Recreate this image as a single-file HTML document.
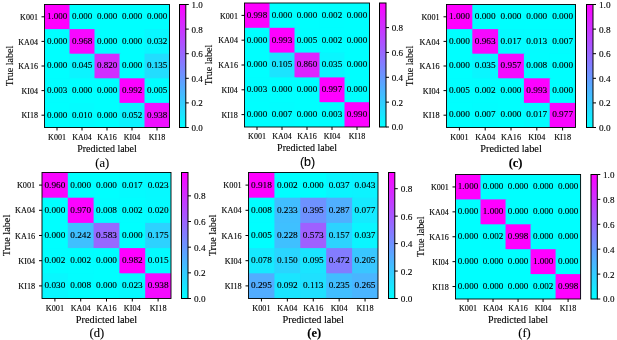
<!DOCTYPE html>
<html><head><meta charset="utf-8"><title>Confusion matrices</title>
<style>html,body{margin:0;padding:0;background:#fff;overflow:hidden}svg{display:block}text{stroke:#000;stroke-width:.12px}</style></head>
<body>
<svg width="617" height="340" viewBox="0 0 617 340" font-family="'Liberation Serif', serif" fill="#000">
<defs><linearGradient id="cg" x1="0" y1="1" x2="0" y2="0"><stop offset="0" stop-color="rgb(0,255,255)"/><stop offset="1" stop-color="rgb(255,0,255)"/></linearGradient></defs>
<rect width="617" height="340" fill="#fff"/>
<g id="pa">
<g>
<rect x="44.5" y="4.5" width="125" height="123" fill="rgb(0,255,255)"/>
<rect x="44.5" y="4.5" width="26" height="25.6" fill="rgb(255,0,255)"/>
<rect x="69.5" y="4.5" width="26" height="25.6" fill="rgb(0,255,255)"/>
<rect x="94.5" y="4.5" width="26" height="25.6" fill="rgb(0,255,255)"/>
<rect x="119.5" y="4.5" width="26" height="25.6" fill="rgb(0,255,255)"/>
<rect x="144.5" y="4.5" width="25" height="25.6" fill="rgb(0,255,255)"/>
<rect x="44.5" y="29.1" width="26" height="25.6" fill="rgb(0,255,255)"/>
<rect x="69.5" y="29.1" width="26" height="25.6" fill="rgb(247,8,255)"/>
<rect x="94.5" y="29.1" width="26" height="25.6" fill="rgb(0,255,255)"/>
<rect x="119.5" y="29.1" width="26" height="25.6" fill="rgb(0,255,255)"/>
<rect x="144.5" y="29.1" width="25" height="25.6" fill="rgb(8,247,255)"/>
<rect x="44.5" y="53.7" width="26" height="25.6" fill="rgb(0,255,255)"/>
<rect x="69.5" y="53.7" width="26" height="25.6" fill="rgb(11,244,255)"/>
<rect x="94.5" y="53.7" width="26" height="25.6" fill="rgb(209,46,255)"/>
<rect x="119.5" y="53.7" width="26" height="25.6" fill="rgb(0,255,255)"/>
<rect x="144.5" y="53.7" width="25" height="25.6" fill="rgb(34,221,255)"/>
<rect x="44.5" y="78.3" width="26" height="25.6" fill="rgb(1,254,255)"/>
<rect x="69.5" y="78.3" width="26" height="25.6" fill="rgb(0,255,255)"/>
<rect x="94.5" y="78.3" width="26" height="25.6" fill="rgb(0,255,255)"/>
<rect x="119.5" y="78.3" width="26" height="25.6" fill="rgb(253,2,255)"/>
<rect x="144.5" y="78.3" width="25" height="25.6" fill="rgb(1,254,255)"/>
<rect x="44.5" y="102.9" width="26" height="24.6" fill="rgb(0,255,255)"/>
<rect x="69.5" y="102.9" width="26" height="24.6" fill="rgb(3,252,255)"/>
<rect x="94.5" y="102.9" width="26" height="24.6" fill="rgb(0,255,255)"/>
<rect x="119.5" y="102.9" width="26" height="24.6" fill="rgb(13,242,255)"/>
<rect x="144.5" y="102.9" width="25" height="24.6" fill="rgb(239,16,255)"/>
</g>
<rect x="44.5" y="4.5" width="125" height="123" fill="none" stroke="#000" stroke-width="0.9"/>
<g font-size="9" text-anchor="middle">
<text x="57" y="19.2">1.000</text>
<text x="82" y="19.2">0.000</text>
<text x="107" y="19.2">0.000</text>
<text x="132" y="19.2">0.000</text>
<text x="157" y="19.2">0.000</text>
<text x="57" y="43.8">0.000</text>
<text x="82" y="43.8">0.968</text>
<text x="107" y="43.8">0.000</text>
<text x="132" y="43.8">0.000</text>
<text x="157" y="43.8">0.032</text>
<text x="57" y="68.4">0.000</text>
<text x="82" y="68.4">0.045</text>
<text x="107" y="68.4">0.820</text>
<text x="132" y="68.4">0.000</text>
<text x="157" y="68.4">0.135</text>
<text x="57" y="93">0.003</text>
<text x="82" y="93">0.000</text>
<text x="107" y="93">0.000</text>
<text x="132" y="93">0.992</text>
<text x="157" y="93">0.005</text>
<text x="57" y="117.6">0.000</text>
<text x="82" y="117.6">0.010</text>
<text x="107" y="117.6">0.000</text>
<text x="132" y="117.6">0.052</text>
<text x="157" y="117.6">0.938</text>
</g>
<g font-size="8" text-anchor="end">
<text x="37.9" y="19.9">K001</text>
<text x="37.9" y="44.5">KA04</text>
<text x="37.9" y="69.1">KA16</text>
<text x="37.9" y="93.7">KI04</text>
<text x="37.9" y="118.3">KI18</text>
</g>
<g font-size="8" text-anchor="middle">
<text x="57" y="139.85">K001</text>
<text x="82" y="139.85">KA04</text>
<text x="107" y="139.85">KA16</text>
<text x="132" y="139.85">KI04</text>
<text x="157" y="139.85">KI18</text>
</g>
<text x="107" y="152" font-size="10" text-anchor="middle">Predicted label</text>
<text transform="translate(12.7,66) rotate(-90)" font-size="10" text-anchor="middle">True label</text>
<text x="102.3" y="167.2" font-size="12.5" text-anchor="middle">(a)</text>
<rect x="179.5" y="4.5" width="6.3" height="123" fill="url(#cg)" stroke="#000" stroke-width="1"/>
<g font-size="9">
<text x="191.6" y="130.9">0.0</text>
<text x="191.6" y="106.3">0.2</text>
<text x="191.6" y="81.7">0.4</text>
<text x="191.6" y="57.1">0.6</text>
<text x="191.6" y="32.5">0.8</text>
<text x="191.6" y="7.9">1.0</text>
</g>
<path d="M44.5 16.8h-3M57 127.5v3M44.5 41.4h-3M82 127.5v3M44.5 66h-3M107 127.5v3M44.5 90.6h-3M132 127.5v3M44.5 115.2h-3M157 127.5v3M185.8 127.5h3M185.8 102.9h3M185.8 78.3h3M185.8 53.7h3M185.8 29.1h3M185.8 4.5h3" stroke="#000" stroke-width="1" fill="none"/>
</g>
<g id="pb">
<g>
<rect x="244.5" y="3" width="125" height="124" fill="rgb(0,255,255)"/>
<rect x="244.5" y="3" width="26" height="25.8" fill="rgb(255,0,255)"/>
<rect x="269.5" y="3" width="26" height="25.8" fill="rgb(0,255,255)"/>
<rect x="294.5" y="3" width="26" height="25.8" fill="rgb(0,255,255)"/>
<rect x="319.5" y="3" width="26" height="25.8" fill="rgb(1,254,255)"/>
<rect x="344.5" y="3" width="25" height="25.8" fill="rgb(0,255,255)"/>
<rect x="244.5" y="27.8" width="26" height="25.8" fill="rgb(0,255,255)"/>
<rect x="269.5" y="27.8" width="26" height="25.8" fill="rgb(254,1,255)"/>
<rect x="294.5" y="27.8" width="26" height="25.8" fill="rgb(1,254,255)"/>
<rect x="319.5" y="27.8" width="26" height="25.8" fill="rgb(1,254,255)"/>
<rect x="344.5" y="27.8" width="25" height="25.8" fill="rgb(0,255,255)"/>
<rect x="244.5" y="52.6" width="26" height="25.8" fill="rgb(0,255,255)"/>
<rect x="269.5" y="52.6" width="26" height="25.8" fill="rgb(27,228,255)"/>
<rect x="294.5" y="52.6" width="26" height="25.8" fill="rgb(220,35,255)"/>
<rect x="319.5" y="52.6" width="26" height="25.8" fill="rgb(9,246,255)"/>
<rect x="344.5" y="52.6" width="25" height="25.8" fill="rgb(0,255,255)"/>
<rect x="244.5" y="77.4" width="26" height="25.8" fill="rgb(1,254,255)"/>
<rect x="269.5" y="77.4" width="26" height="25.8" fill="rgb(0,255,255)"/>
<rect x="294.5" y="77.4" width="26" height="25.8" fill="rgb(0,255,255)"/>
<rect x="319.5" y="77.4" width="26" height="25.8" fill="rgb(255,0,255)"/>
<rect x="344.5" y="77.4" width="25" height="25.8" fill="rgb(0,255,255)"/>
<rect x="244.5" y="102.2" width="26" height="24.8" fill="rgb(0,255,255)"/>
<rect x="269.5" y="102.2" width="26" height="24.8" fill="rgb(2,253,255)"/>
<rect x="294.5" y="102.2" width="26" height="24.8" fill="rgb(0,255,255)"/>
<rect x="319.5" y="102.2" width="26" height="24.8" fill="rgb(1,254,255)"/>
<rect x="344.5" y="102.2" width="25" height="24.8" fill="rgb(253,2,255)"/>
</g>
<rect x="244.5" y="3" width="125" height="124" fill="none" stroke="#000" stroke-width="0.9"/>
<g font-size="9.04" text-anchor="middle">
<text x="257" y="17.81">0.998</text>
<text x="282" y="17.81">0.000</text>
<text x="307" y="17.81">0.000</text>
<text x="332" y="17.81">0.002</text>
<text x="357" y="17.81">0.000</text>
<text x="257" y="42.61">0.000</text>
<text x="282" y="42.61">0.993</text>
<text x="307" y="42.61">0.005</text>
<text x="332" y="42.61">0.002</text>
<text x="357" y="42.61">0.000</text>
<text x="257" y="67.41">0.000</text>
<text x="282" y="67.41">0.105</text>
<text x="307" y="67.41">0.860</text>
<text x="332" y="67.41">0.035</text>
<text x="357" y="67.41">0.000</text>
<text x="257" y="92.21">0.003</text>
<text x="282" y="92.21">0.000</text>
<text x="307" y="92.21">0.000</text>
<text x="332" y="92.21">0.997</text>
<text x="357" y="92.21">0.000</text>
<text x="257" y="117.01">0.000</text>
<text x="282" y="117.01">0.007</text>
<text x="307" y="117.01">0.000</text>
<text x="332" y="117.01">0.003</text>
<text x="357" y="117.01">0.990</text>
</g>
<g font-size="8.03" text-anchor="end">
<text x="237.9" y="18.51">K001</text>
<text x="237.9" y="43.31">KA04</text>
<text x="237.9" y="68.11">KA16</text>
<text x="237.9" y="92.91">KI04</text>
<text x="237.9" y="117.71">KI18</text>
</g>
<g font-size="8.03" text-anchor="middle">
<text x="257" y="138.85">K001</text>
<text x="282" y="138.85">KA04</text>
<text x="307" y="138.85">KA16</text>
<text x="332" y="138.85">KI04</text>
<text x="357" y="138.85">KI18</text>
</g>
<text x="307" y="151.1" font-size="10.04" text-anchor="middle">Predicted label</text>
<text transform="translate(212.11,65) rotate(-90)" font-size="10.04" text-anchor="middle">True label</text>
<text x="307.6" y="166.2" font-size="12.5" text-anchor="middle" font-family="'Liberation Sans', sans-serif">(b)</text>
<rect x="379.5" y="3" width="6.5" height="124" fill="url(#cg)" stroke="#000" stroke-width="1"/>
<g font-size="9.04">
<text x="391.8" y="130.41">0.0</text>
<text x="391.8" y="105.56">0.2</text>
<text x="391.8" y="80.71">0.4</text>
<text x="391.8" y="55.86">0.6</text>
<text x="391.8" y="31.01">0.8</text>
</g>
<path d="M244.5 15.4h-3M257 127v3M244.5 40.2h-3M282 127v3M244.5 65h-3M307 127v3M244.5 89.8h-3M332 127v3M244.5 114.6h-3M357 127v3M386 127h3M386 102.15h3M386 77.3h3M386 52.45h3M386 27.6h3" stroke="#000" stroke-width="1" fill="none"/>
</g>
<g id="pc">
<g>
<rect x="446.5" y="4.5" width="129" height="123" fill="rgb(0,255,255)"/>
<rect x="446.5" y="4.5" width="26.8" height="25.6" fill="rgb(255,0,255)"/>
<rect x="472.3" y="4.5" width="26.8" height="25.6" fill="rgb(0,255,255)"/>
<rect x="498.1" y="4.5" width="26.8" height="25.6" fill="rgb(0,255,255)"/>
<rect x="523.9" y="4.5" width="26.8" height="25.6" fill="rgb(0,255,255)"/>
<rect x="549.7" y="4.5" width="25.8" height="25.6" fill="rgb(0,255,255)"/>
<rect x="446.5" y="29.1" width="26.8" height="25.6" fill="rgb(0,255,255)"/>
<rect x="472.3" y="29.1" width="26.8" height="25.6" fill="rgb(246,9,255)"/>
<rect x="498.1" y="29.1" width="26.8" height="25.6" fill="rgb(4,251,255)"/>
<rect x="523.9" y="29.1" width="26.8" height="25.6" fill="rgb(3,252,255)"/>
<rect x="549.7" y="29.1" width="25.8" height="25.6" fill="rgb(2,253,255)"/>
<rect x="446.5" y="53.7" width="26.8" height="25.6" fill="rgb(0,255,255)"/>
<rect x="472.3" y="53.7" width="26.8" height="25.6" fill="rgb(9,246,255)"/>
<rect x="498.1" y="53.7" width="26.8" height="25.6" fill="rgb(244,11,255)"/>
<rect x="523.9" y="53.7" width="26.8" height="25.6" fill="rgb(2,253,255)"/>
<rect x="549.7" y="53.7" width="25.8" height="25.6" fill="rgb(0,255,255)"/>
<rect x="446.5" y="78.3" width="26.8" height="25.6" fill="rgb(1,254,255)"/>
<rect x="472.3" y="78.3" width="26.8" height="25.6" fill="rgb(1,254,255)"/>
<rect x="498.1" y="78.3" width="26.8" height="25.6" fill="rgb(0,255,255)"/>
<rect x="523.9" y="78.3" width="26.8" height="25.6" fill="rgb(253,2,255)"/>
<rect x="549.7" y="78.3" width="25.8" height="25.6" fill="rgb(0,255,255)"/>
<rect x="446.5" y="102.9" width="26.8" height="24.6" fill="rgb(0,255,255)"/>
<rect x="472.3" y="102.9" width="26.8" height="24.6" fill="rgb(2,253,255)"/>
<rect x="498.1" y="102.9" width="26.8" height="24.6" fill="rgb(0,255,255)"/>
<rect x="523.9" y="102.9" width="26.8" height="24.6" fill="rgb(4,251,255)"/>
<rect x="549.7" y="102.9" width="25.8" height="24.6" fill="rgb(249,6,255)"/>
</g>
<rect x="446.5" y="4.5" width="129" height="123" fill="none" stroke="#000" stroke-width="0.9"/>
<g font-size="9" text-anchor="middle">
<text transform="translate(459.4,18.9) scale(1.032,1)">1.000</text>
<text transform="translate(485.2,18.9) scale(1.032,1)">0.000</text>
<text transform="translate(511,18.9) scale(1.032,1)">0.000</text>
<text transform="translate(536.8,18.9) scale(1.032,1)">0.000</text>
<text transform="translate(562.6,18.9) scale(1.032,1)">0.000</text>
<text transform="translate(459.4,43.5) scale(1.032,1)">0.000</text>
<text transform="translate(485.2,43.5) scale(1.032,1)">0.963</text>
<text transform="translate(511,43.5) scale(1.032,1)">0.017</text>
<text transform="translate(536.8,43.5) scale(1.032,1)">0.013</text>
<text transform="translate(562.6,43.5) scale(1.032,1)">0.007</text>
<text transform="translate(459.4,68.1) scale(1.032,1)">0.000</text>
<text transform="translate(485.2,68.1) scale(1.032,1)">0.035</text>
<text transform="translate(511,68.1) scale(1.032,1)">0.957</text>
<text transform="translate(536.8,68.1) scale(1.032,1)">0.008</text>
<text transform="translate(562.6,68.1) scale(1.032,1)">0.000</text>
<text transform="translate(459.4,92.7) scale(1.032,1)">0.005</text>
<text transform="translate(485.2,92.7) scale(1.032,1)">0.002</text>
<text transform="translate(511,92.7) scale(1.032,1)">0.000</text>
<text transform="translate(536.8,92.7) scale(1.032,1)">0.993</text>
<text transform="translate(562.6,92.7) scale(1.032,1)">0.000</text>
<text transform="translate(459.4,117.3) scale(1.032,1)">0.000</text>
<text transform="translate(485.2,117.3) scale(1.032,1)">0.007</text>
<text transform="translate(511,117.3) scale(1.032,1)">0.000</text>
<text transform="translate(536.8,117.3) scale(1.032,1)">0.017</text>
<text transform="translate(562.6,117.3) scale(1.032,1)">0.977</text>
</g>
<g font-size="8" text-anchor="end">
<text transform="translate(439.69,19.9) scale(1.032,1)">K001</text>
<text transform="translate(439.69,44.5) scale(1.032,1)">KA04</text>
<text transform="translate(439.69,69.1) scale(1.032,1)">KA16</text>
<text transform="translate(439.69,93.7) scale(1.032,1)">KI04</text>
<text transform="translate(439.69,118.3) scale(1.032,1)">KI18</text>
</g>
<g font-size="8" text-anchor="middle">
<text transform="translate(459.4,139.65) scale(1.032,1)">K001</text>
<text transform="translate(485.2,139.65) scale(1.032,1)">KA04</text>
<text transform="translate(511,139.65) scale(1.032,1)">KA16</text>
<text transform="translate(536.8,139.65) scale(1.032,1)">KI04</text>
<text transform="translate(562.6,139.65) scale(1.032,1)">KI18</text>
</g>
<text transform="translate(511,151.8) scale(1.032,1)" font-size="10" text-anchor="middle">Predicted label</text>
<text transform="translate(413.3,66) rotate(-90)" font-size="10" text-anchor="middle">True label</text>
<text x="515.6" y="167" font-size="12.5" text-anchor="middle" font-weight="bold">(c)</text>
<rect x="586.5" y="4.5" width="6.5" height="123" fill="url(#cg)" stroke="#000" stroke-width="1"/>
<g font-size="9">
<text transform="translate(598.99,130.9) scale(1.032,1)">0.0</text>
<text transform="translate(598.99,106.3) scale(1.032,1)">0.2</text>
<text transform="translate(598.99,81.7) scale(1.032,1)">0.4</text>
<text transform="translate(598.99,57.1) scale(1.032,1)">0.6</text>
<text transform="translate(598.99,32.5) scale(1.032,1)">0.8</text>
<text transform="translate(598.99,7.9) scale(1.032,1)">1.0</text>
</g>
<path d="M446.5 16.8h-3M459.4 127.5v3M446.5 41.4h-3M485.2 127.5v3M446.5 66h-3M511 127.5v3M446.5 90.6h-3M536.8 127.5v3M446.5 115.2h-3M562.6 127.5v3M593 127.5h3M593 102.9h3M593 78.3h3M593 53.7h3M593 29.1h3M593 4.5h3" stroke="#000" stroke-width="1" fill="none"/>
</g>
<g id="pd">
<g>
<rect x="42" y="172.5" width="129" height="126" fill="rgb(0,255,255)"/>
<rect x="42" y="172.5" width="26.8" height="26.2" fill="rgb(249,6,255)"/>
<rect x="67.8" y="172.5" width="26.8" height="26.2" fill="rgb(0,255,255)"/>
<rect x="93.6" y="172.5" width="26.8" height="26.2" fill="rgb(0,255,255)"/>
<rect x="119.4" y="172.5" width="26.8" height="26.2" fill="rgb(4,251,255)"/>
<rect x="145.2" y="172.5" width="25.8" height="26.2" fill="rgb(6,249,255)"/>
<rect x="42" y="197.7" width="26.8" height="26.2" fill="rgb(0,255,255)"/>
<rect x="67.8" y="197.7" width="26.8" height="26.2" fill="rgb(252,3,255)"/>
<rect x="93.6" y="197.7" width="26.8" height="26.2" fill="rgb(2,253,255)"/>
<rect x="119.4" y="197.7" width="26.8" height="26.2" fill="rgb(1,254,255)"/>
<rect x="145.2" y="197.7" width="25.8" height="26.2" fill="rgb(5,250,255)"/>
<rect x="42" y="222.9" width="26.8" height="26.2" fill="rgb(0,255,255)"/>
<rect x="67.8" y="222.9" width="26.8" height="26.2" fill="rgb(63,192,255)"/>
<rect x="93.6" y="222.9" width="26.8" height="26.2" fill="rgb(151,104,255)"/>
<rect x="119.4" y="222.9" width="26.8" height="26.2" fill="rgb(0,255,255)"/>
<rect x="145.2" y="222.9" width="25.8" height="26.2" fill="rgb(45,210,255)"/>
<rect x="42" y="248.1" width="26.8" height="26.2" fill="rgb(1,254,255)"/>
<rect x="67.8" y="248.1" width="26.8" height="26.2" fill="rgb(1,254,255)"/>
<rect x="93.6" y="248.1" width="26.8" height="26.2" fill="rgb(0,255,255)"/>
<rect x="119.4" y="248.1" width="26.8" height="26.2" fill="rgb(255,0,255)"/>
<rect x="145.2" y="248.1" width="25.8" height="26.2" fill="rgb(4,251,255)"/>
<rect x="42" y="273.3" width="26.8" height="25.2" fill="rgb(8,247,255)"/>
<rect x="67.8" y="273.3" width="26.8" height="25.2" fill="rgb(2,253,255)"/>
<rect x="93.6" y="273.3" width="26.8" height="25.2" fill="rgb(0,255,255)"/>
<rect x="119.4" y="273.3" width="26.8" height="25.2" fill="rgb(6,249,255)"/>
<rect x="145.2" y="273.3" width="25.8" height="25.2" fill="rgb(244,11,255)"/>
</g>
<rect x="42" y="172.5" width="129" height="126" fill="none" stroke="#000" stroke-width="0.9"/>
<g font-size="9.25" text-anchor="middle">
<text x="54.9" y="187.57">0.960</text>
<text x="80.7" y="187.57">0.000</text>
<text x="106.5" y="187.57">0.000</text>
<text x="132.3" y="187.57">0.017</text>
<text x="158.1" y="187.57">0.023</text>
<text x="54.9" y="212.77">0.000</text>
<text x="80.7" y="212.77">0.970</text>
<text x="106.5" y="212.77">0.008</text>
<text x="132.3" y="212.77">0.002</text>
<text x="158.1" y="212.77">0.020</text>
<text x="54.9" y="237.97">0.000</text>
<text x="80.7" y="237.97">0.242</text>
<text x="106.5" y="237.97">0.583</text>
<text x="132.3" y="237.97">0.000</text>
<text x="158.1" y="237.97">0.175</text>
<text x="54.9" y="263.17">0.002</text>
<text x="80.7" y="263.17">0.002</text>
<text x="106.5" y="263.17">0.000</text>
<text x="132.3" y="263.17">0.982</text>
<text x="158.1" y="263.17">0.015</text>
<text x="54.9" y="288.37">0.030</text>
<text x="80.7" y="288.37">0.008</text>
<text x="106.5" y="288.37">0.000</text>
<text x="132.3" y="288.37">0.023</text>
<text x="158.1" y="288.37">0.938</text>
</g>
<g font-size="8.23" text-anchor="end">
<text x="35.19" y="188.29">K001</text>
<text x="35.19" y="213.49">KA04</text>
<text x="35.19" y="238.69">KA16</text>
<text x="35.19" y="263.89">KI04</text>
<text x="35.19" y="289.09">KI18</text>
</g>
<g font-size="8.23" text-anchor="middle">
<text x="54.9" y="311.15">K001</text>
<text x="80.7" y="311.15">KA04</text>
<text x="106.5" y="311.15">KA16</text>
<text x="132.3" y="311.15">KI04</text>
<text x="158.1" y="311.15">KI18</text>
</g>
<text x="106.5" y="323" font-size="10.28" text-anchor="middle">Predicted label</text>
<text transform="translate(9.79,235.5) rotate(-90)" font-size="10.28" text-anchor="middle">True label</text>
<text x="96.9" y="336.9" font-size="12.5" text-anchor="middle">(d)</text>
<rect x="181.5" y="172.5" width="6.5" height="126" fill="url(#cg)" stroke="#000" stroke-width="1"/>
<g font-size="9.25">
<text x="193.99" y="302">0.0</text>
<text x="193.99" y="276.33">0.2</text>
<text x="193.99" y="250.67">0.4</text>
<text x="193.99" y="225.01">0.6</text>
<text x="193.99" y="199.35">0.8</text>
</g>
<path d="M42 185.1h-3M54.9 298.5v3M42 210.3h-3M80.7 298.5v3M42 235.5h-3M106.5 298.5v3M42 260.7h-3M132.3 298.5v3M42 285.9h-3M158.1 298.5v3M188 298.5h3M188 272.84h3M188 247.18h3M188 221.51h3M188 195.85h3" stroke="#000" stroke-width="1" fill="none"/>
</g>
<g id="pe">
<g>
<rect x="248.5" y="172.5" width="129.5" height="126" fill="rgb(0,255,255)"/>
<rect x="248.5" y="172.5" width="26.9" height="26.2" fill="rgb(255,0,255)"/>
<rect x="274.4" y="172.5" width="26.9" height="26.2" fill="rgb(1,254,255)"/>
<rect x="300.3" y="172.5" width="26.9" height="26.2" fill="rgb(0,255,255)"/>
<rect x="326.2" y="172.5" width="26.9" height="26.2" fill="rgb(10,245,255)"/>
<rect x="352.1" y="172.5" width="25.9" height="26.2" fill="rgb(12,243,255)"/>
<rect x="248.5" y="197.7" width="26.9" height="26.2" fill="rgb(2,253,255)"/>
<rect x="274.4" y="197.7" width="26.9" height="26.2" fill="rgb(65,190,255)"/>
<rect x="300.3" y="197.7" width="26.9" height="26.2" fill="rgb(110,145,255)"/>
<rect x="326.2" y="197.7" width="26.9" height="26.2" fill="rgb(80,175,255)"/>
<rect x="352.1" y="197.7" width="25.9" height="26.2" fill="rgb(21,234,255)"/>
<rect x="248.5" y="222.9" width="26.9" height="26.2" fill="rgb(1,254,255)"/>
<rect x="274.4" y="222.9" width="26.9" height="26.2" fill="rgb(63,192,255)"/>
<rect x="300.3" y="222.9" width="26.9" height="26.2" fill="rgb(159,96,255)"/>
<rect x="326.2" y="222.9" width="26.9" height="26.2" fill="rgb(44,211,255)"/>
<rect x="352.1" y="222.9" width="25.9" height="26.2" fill="rgb(10,245,255)"/>
<rect x="248.5" y="248.1" width="26.9" height="26.2" fill="rgb(22,233,255)"/>
<rect x="274.4" y="248.1" width="26.9" height="26.2" fill="rgb(42,213,255)"/>
<rect x="300.3" y="248.1" width="26.9" height="26.2" fill="rgb(26,229,255)"/>
<rect x="326.2" y="248.1" width="26.9" height="26.2" fill="rgb(131,124,255)"/>
<rect x="352.1" y="248.1" width="25.9" height="26.2" fill="rgb(57,198,255)"/>
<rect x="248.5" y="273.3" width="26.9" height="25.2" fill="rgb(82,173,255)"/>
<rect x="274.4" y="273.3" width="26.9" height="25.2" fill="rgb(26,229,255)"/>
<rect x="300.3" y="273.3" width="26.9" height="25.2" fill="rgb(31,224,255)"/>
<rect x="326.2" y="273.3" width="26.9" height="25.2" fill="rgb(65,190,255)"/>
<rect x="352.1" y="273.3" width="25.9" height="25.2" fill="rgb(74,181,255)"/>
</g>
<rect x="248.5" y="172.5" width="129.5" height="126" fill="none" stroke="#000" stroke-width="0.9"/>
<g font-size="9.27" text-anchor="middle">
<text x="261.45" y="187.57">0.918</text>
<text x="287.35" y="187.57">0.002</text>
<text x="313.25" y="187.57">0.000</text>
<text x="339.15" y="187.57">0.037</text>
<text x="365.05" y="187.57">0.043</text>
<text x="261.45" y="212.77">0.008</text>
<text x="287.35" y="212.77">0.233</text>
<text x="313.25" y="212.77">0.395</text>
<text x="339.15" y="212.77">0.287</text>
<text x="365.05" y="212.77">0.077</text>
<text x="261.45" y="237.97">0.005</text>
<text x="287.35" y="237.97">0.228</text>
<text x="313.25" y="237.97">0.573</text>
<text x="339.15" y="237.97">0.157</text>
<text x="365.05" y="237.97">0.037</text>
<text x="261.45" y="263.17">0.078</text>
<text x="287.35" y="263.17">0.150</text>
<text x="313.25" y="263.17">0.095</text>
<text x="339.15" y="263.17">0.472</text>
<text x="365.05" y="263.17">0.205</text>
<text x="261.45" y="288.37">0.295</text>
<text x="287.35" y="288.37">0.092</text>
<text x="313.25" y="288.37">0.113</text>
<text x="339.15" y="288.37">0.235</text>
<text x="365.05" y="288.37">0.265</text>
</g>
<g font-size="8.24" text-anchor="end">
<text x="241.66" y="188.29">K001</text>
<text x="241.66" y="213.49">KA04</text>
<text x="241.66" y="238.69">KA16</text>
<text x="241.66" y="263.89">KI04</text>
<text x="241.66" y="289.09">KI18</text>
</g>
<g font-size="8.24" text-anchor="middle">
<text x="261.45" y="310.95">K001</text>
<text x="287.35" y="310.95">KA04</text>
<text x="313.25" y="310.95">KA16</text>
<text x="339.15" y="310.95">KI04</text>
<text x="365.05" y="310.95">KI18</text>
</g>
<text x="313.25" y="322.6" font-size="10.3" text-anchor="middle">Predicted label</text>
<text transform="translate(216,235.5) rotate(-90)" font-size="10.3" text-anchor="middle">True label</text>
<text x="314.3" y="337.2" font-size="12.5" text-anchor="middle" font-weight="bold">(e)</text>
<rect x="388.5" y="172.5" width="6.3" height="126" fill="url(#cg)" stroke="#000" stroke-width="1"/>
<g font-size="9.27">
<text x="400.81" y="302">0.0</text>
<text x="400.81" y="274.55">0.2</text>
<text x="400.81" y="247.1">0.4</text>
<text x="400.81" y="219.65">0.6</text>
<text x="400.81" y="192.2">0.8</text>
</g>
<path d="M248.5 185.1h-3M261.45 298.5v3M248.5 210.3h-3M287.35 298.5v3M248.5 235.5h-3M313.25 298.5v3M248.5 260.7h-3M339.15 298.5v3M248.5 285.9h-3M365.05 298.5v3M394.8 298.5h3M394.8 271.05h3M394.8 243.6h3M394.8 216.15h3M394.8 188.7h3" stroke="#000" stroke-width="1" fill="none"/>
</g>
<g id="pf">
<g>
<rect x="455.5" y="174.5" width="125.1" height="124.5" fill="rgb(0,255,255)"/>
<rect x="455.5" y="174.5" width="26.02" height="25.9" fill="rgb(255,0,255)"/>
<rect x="480.52" y="174.5" width="26.02" height="25.9" fill="rgb(0,255,255)"/>
<rect x="505.54" y="174.5" width="26.02" height="25.9" fill="rgb(0,255,255)"/>
<rect x="530.56" y="174.5" width="26.02" height="25.9" fill="rgb(0,255,255)"/>
<rect x="555.58" y="174.5" width="25.02" height="25.9" fill="rgb(0,255,255)"/>
<rect x="455.5" y="199.4" width="26.02" height="25.9" fill="rgb(0,255,255)"/>
<rect x="480.52" y="199.4" width="26.02" height="25.9" fill="rgb(255,0,255)"/>
<rect x="505.54" y="199.4" width="26.02" height="25.9" fill="rgb(0,255,255)"/>
<rect x="530.56" y="199.4" width="26.02" height="25.9" fill="rgb(0,255,255)"/>
<rect x="555.58" y="199.4" width="25.02" height="25.9" fill="rgb(0,255,255)"/>
<rect x="455.5" y="224.3" width="26.02" height="25.9" fill="rgb(0,255,255)"/>
<rect x="480.52" y="224.3" width="26.02" height="25.9" fill="rgb(1,254,255)"/>
<rect x="505.54" y="224.3" width="26.02" height="25.9" fill="rgb(254,1,255)"/>
<rect x="530.56" y="224.3" width="26.02" height="25.9" fill="rgb(0,255,255)"/>
<rect x="555.58" y="224.3" width="25.02" height="25.9" fill="rgb(0,255,255)"/>
<rect x="455.5" y="249.2" width="26.02" height="25.9" fill="rgb(0,255,255)"/>
<rect x="480.52" y="249.2" width="26.02" height="25.9" fill="rgb(0,255,255)"/>
<rect x="505.54" y="249.2" width="26.02" height="25.9" fill="rgb(0,255,255)"/>
<rect x="530.56" y="249.2" width="26.02" height="25.9" fill="rgb(255,0,255)"/>
<rect x="555.58" y="249.2" width="25.02" height="25.9" fill="rgb(0,255,255)"/>
<rect x="455.5" y="274.1" width="26.02" height="24.9" fill="rgb(0,255,255)"/>
<rect x="480.52" y="274.1" width="26.02" height="24.9" fill="rgb(0,255,255)"/>
<rect x="505.54" y="274.1" width="26.02" height="24.9" fill="rgb(0,255,255)"/>
<rect x="530.56" y="274.1" width="26.02" height="24.9" fill="rgb(1,254,255)"/>
<rect x="555.58" y="274.1" width="25.02" height="24.9" fill="rgb(254,1,255)"/>
</g>
<rect x="455.5" y="174.5" width="125.1" height="124.5" fill="none" stroke="#000" stroke-width="0.9"/>
<g font-size="9.06" text-anchor="middle">
<text x="468.01" y="189.37">1.000</text>
<text x="493.03" y="189.37">0.000</text>
<text x="518.05" y="189.37">0.000</text>
<text x="543.07" y="189.37">0.000</text>
<text x="568.09" y="189.37">0.000</text>
<text x="468.01" y="214.27">0.000</text>
<text x="493.03" y="214.27">1.000</text>
<text x="518.05" y="214.27">0.000</text>
<text x="543.07" y="214.27">0.000</text>
<text x="568.09" y="214.27">0.000</text>
<text x="468.01" y="239.17">0.000</text>
<text x="493.03" y="239.17">0.002</text>
<text x="518.05" y="239.17">0.998</text>
<text x="543.07" y="239.17">0.000</text>
<text x="568.09" y="239.17">0.000</text>
<text x="468.01" y="264.07">0.000</text>
<text x="493.03" y="264.07">0.000</text>
<text x="518.05" y="264.07">0.000</text>
<text x="543.07" y="264.07">1.000</text>
<text x="568.09" y="264.07">0.000</text>
<text x="468.01" y="288.97">0.000</text>
<text x="493.03" y="288.97">0.000</text>
<text x="518.05" y="288.97">0.000</text>
<text x="543.07" y="288.97">0.002</text>
<text x="568.09" y="288.97">0.998</text>
</g>
<g font-size="8.05" text-anchor="end">
<text x="448.89" y="190.07">K001</text>
<text x="448.89" y="214.97">KA04</text>
<text x="448.89" y="239.87">KA16</text>
<text x="448.89" y="264.77">KI04</text>
<text x="448.89" y="289.67">KI18</text>
</g>
<g font-size="8.05" text-anchor="middle">
<text x="468.01" y="310.5">K001</text>
<text x="493.03" y="310.5">KA04</text>
<text x="518.05" y="310.5">KA16</text>
<text x="543.07" y="310.5">KI04</text>
<text x="568.09" y="310.5">KI18</text>
</g>
<text x="518.05" y="322.8" font-size="10.06" text-anchor="middle">Predicted label</text>
<text transform="translate(423.82,236.75) rotate(-90)" font-size="10.06" text-anchor="middle">True label</text>
<text x="524.5" y="337.4" font-size="12.5" text-anchor="middle">(f)</text>
<rect x="591" y="174.5" width="6.3" height="124.5" fill="url(#cg)" stroke="#000" stroke-width="1"/>
<g font-size="9.06">
<text x="603.1" y="302.42">0.0</text>
<text x="603.1" y="277.52">0.2</text>
<text x="603.1" y="252.62">0.4</text>
<text x="603.1" y="227.72">0.6</text>
<text x="603.1" y="202.82">0.8</text>
<text x="603.1" y="177.92">1.0</text>
</g>
<path d="M455.5 186.95h-3M468.01 299v3M455.5 211.85h-3M493.03 299v3M455.5 236.75h-3M518.05 299v3M455.5 261.65h-3M543.07 299v3M455.5 286.55h-3M568.09 299v3M597.3 299h3M597.3 274.1h3M597.3 249.2h3M597.3 224.3h3M597.3 199.4h3M597.3 174.5h3" stroke="#000" stroke-width="1" fill="none"/>
</g>
</svg>
</body></html>
